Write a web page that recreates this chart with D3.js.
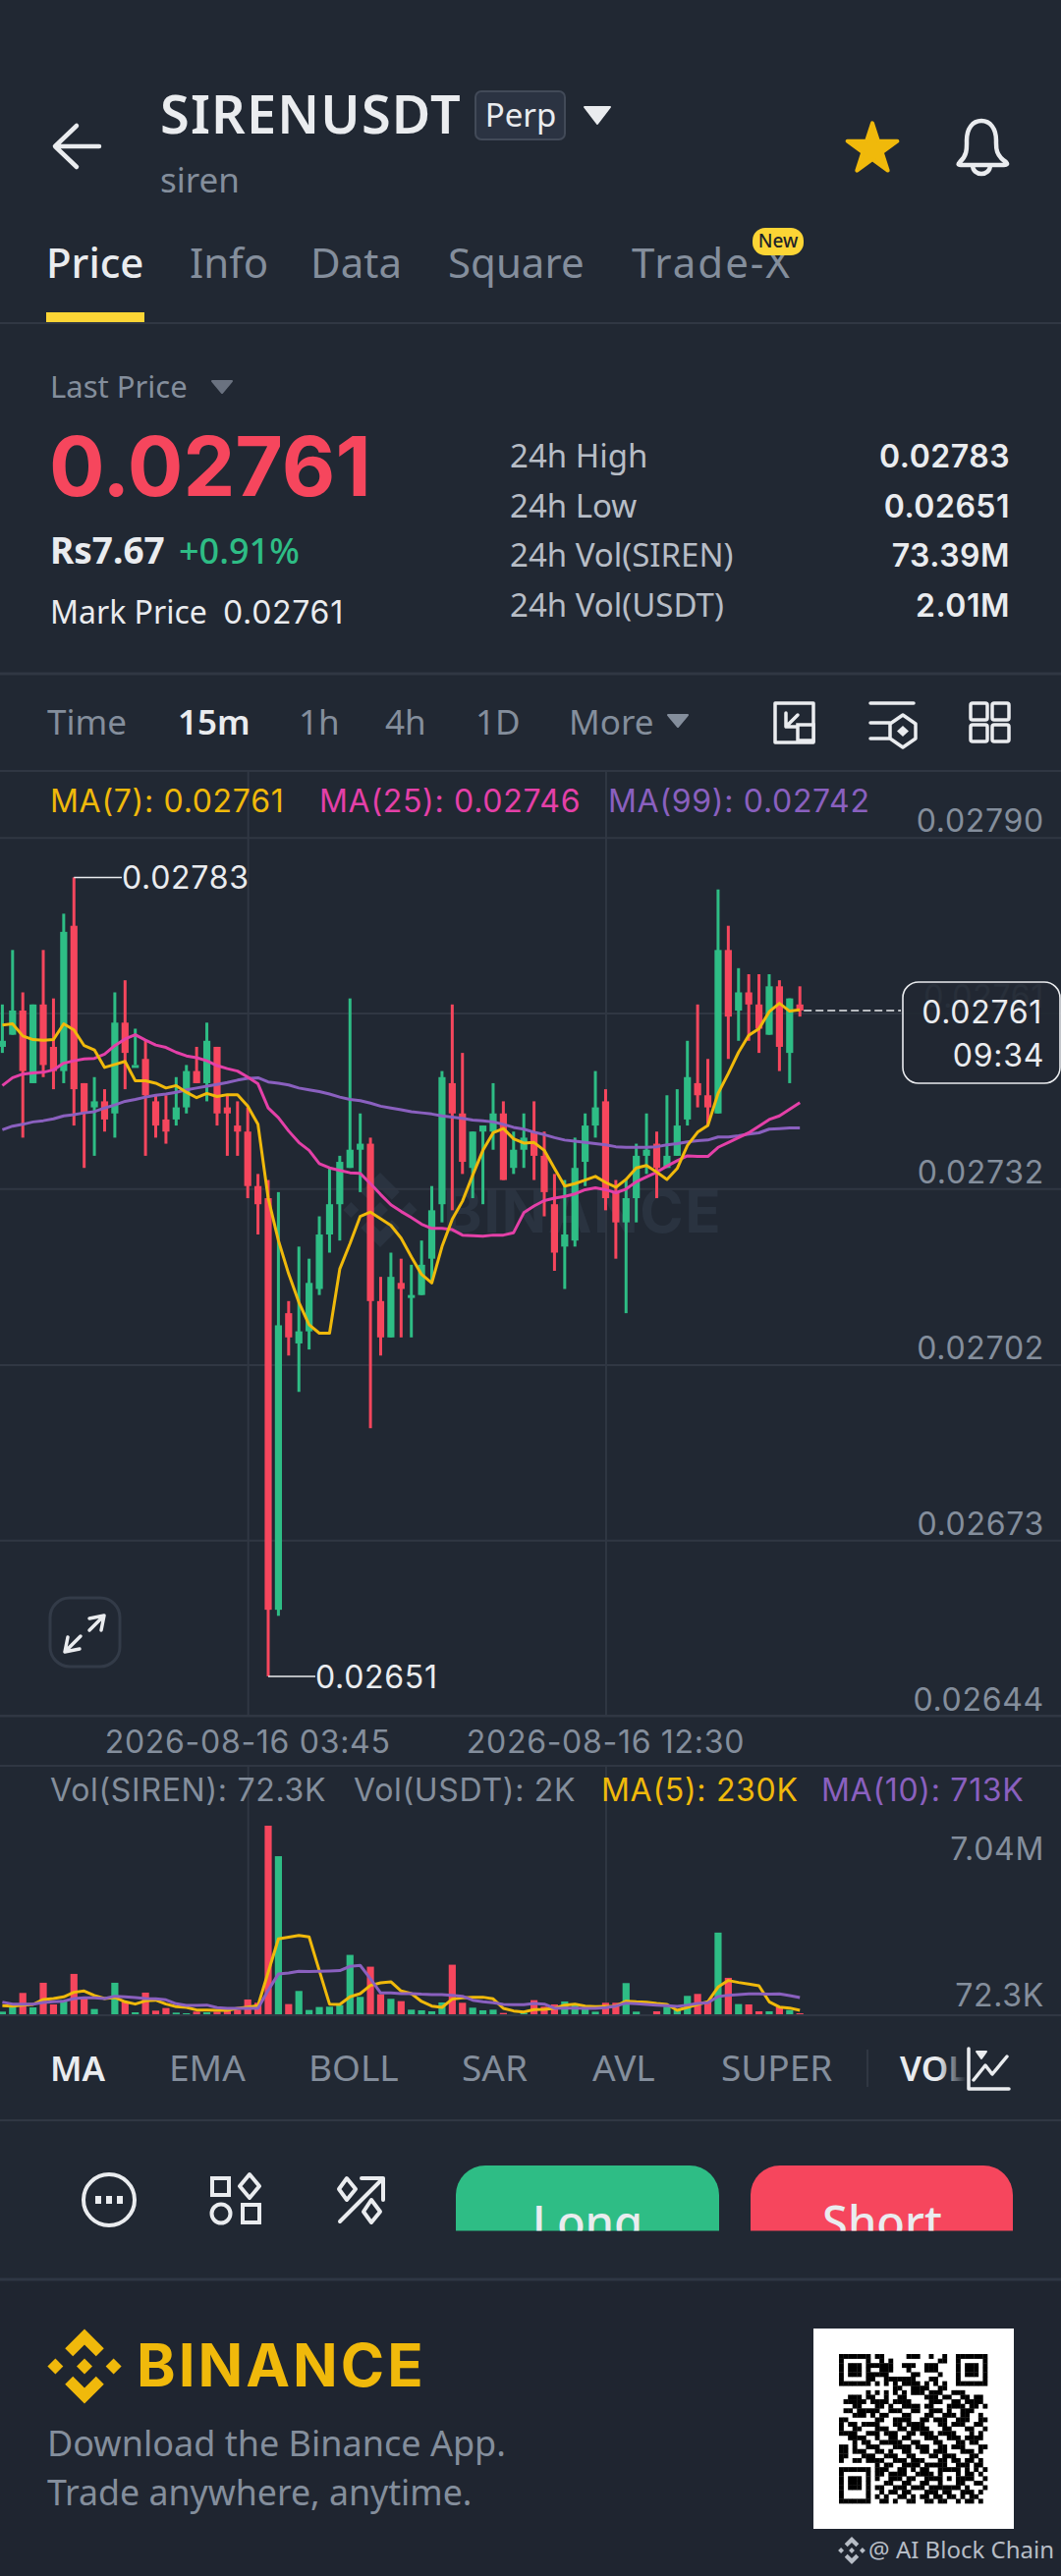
<!DOCTYPE html>
<html>
<head>
<meta charset="utf-8">
<title>SIRENUSDT</title>
<script src="https://cdn.jsdelivr.net/npm/d3@7"></script>
<style>
  html, body { margin: 0; padding: 0; background: #212833; }
  svg { display: block; }
</style>
</head>
<body>
<div id="chart"></div>
<script>
"use strict";

// prices are in units of 0.00001
var bodyTop = [2756,2761,2761,2762,2762,2755,2774,2775,2749,2746,2746,2759,2759,2752,2753,2746,2743,2745,2751,2751,2756,2755,2745,2742,2741,2732,2730,2709,2711,2708,2716,2724,2729,2736,2738,2739,2739,2713,2717,2716,2714,2719,2728,2750,2749,2744,2741,2742,2744,2744,2738,2740,2741,2737,2729,2724,2735,2742,2745,2746,2731,2730,2737,2738,2739,2737,2742,2750,2749,2747,2771,2771,2764,2764,2762,2765,2765,2763,2762];
var bodyBottom = [2755,2757,2751,2749,2752,2751,2751,2748,2744,2745,2743,2744,2754,2752,2747,2742,2741,2743,2745,2749,2749,2744,2744,2741,2732,2729,2662,2662,2707,2706,2708,2715,2724,2729,2735,2738,2713,2707,2707,2715,2714,2714,2720,2729,2744,2736,2735,2741,2741,2733,2735,2738,2737,2731,2721,2722,2723,2736,2742,2730,2726,2726,2730,2737,2735,2735,2737,2743,2747,2745,2744,2760,2761,2762,2758,2757,2755,2754,2761];
var wickHigh = [2762,2771,2764,2762,2771,2763,2777,2783,2749,2750,2748,2764,2766,2758,2756,2747,2747,2750,2752,2755,2759,2755,2747,2746,2745,2734,2733,2731,2713,2722,2720,2727,2735,2737,2763,2744,2740,2717,2721,2720,2719,2723,2732,2751,2762,2754,2741,2742,2749,2746,2741,2744,2746,2741,2734,2733,2740,2744,2751,2748,2733,2733,2739,2744,2741,2747,2748,2756,2762,2753,2781,2775,2768,2767,2767,2767,2766,2763,2765];
var wickLow = [2754,2757,2740,2749,2750,2748,2749,2742,2735,2737,2741,2740,2748,2752,2737,2740,2739,2742,2744,2749,2746,2742,2737,2737,2730,2724,2651,2661,2704,2698,2705,2714,2721,2723,2735,2731,2692,2704,2707,2707,2707,2714,2716,2726,2728,2734,2730,2729,2738,2733,2734,2735,2733,2727,2718,2715,2722,2732,2740,2728,2720,2711,2726,2734,2730,2735,2737,2742,2745,2742,2744,2753,2756,2756,2754,2757,2751,2749,2760];
var candleSide = ["g","g","r","g","r","r","g","r","r","g","r","g","r","g","r","r","r","g","g","r","g","r","r","r","r","r","r","g","r","g","g","g","g","g","g","g","r","r","g","r","g","g","g","g","r","r","g","g","g","r","g","g","r","r","r","g","g","g","g","r","r","g","g","g","r","g","g","g","r","r","g","r","g","r","r","g","r","g","r"];

var ma7 = [2758.6,2758.8,2756.8,2756.2,2756.1,2756.2,2758.8,2757.8,2755.2,2754.5,2751.6,2752.1,2752.6,2749.4,2749.4,2749.0,2748.2,2748.6,2747.5,2746.6,2747.3,2746.8,2747.1,2747.1,2745.2,2742.2,2730,2723,2717.5,2712.8,2709.1,2707.7,2707.7,2718.3,2722.5,2727,2727.7,2726.6,2725.5,2723.4,2720.3,2717.4,2716,2722,2726.5,2729.5,2733.8,2737.9,2740.8,2741.5,2739.8,2739.1,2739.2,2737.9,2734.9,2732,2732.4,2733,2733.6,2732.6,2731.8,2733.1,2735,2735.4,2734.3,2733.1,2734.9,2738.7,2740.9,2742,2747.3,2750.6,2754.1,2756.9,2758,2760.8,2762.2,2760.9,2761.1];
var ma25 = [2748.6,2749.9,2750.5,2750.7,2750.8,2751.2,2752.3,2752.7,2753,2753.1,2753.8,2755.2,2756.3,2757,2756.1,2755.3,2754.9,2754.1,2753.5,2753.2,2752.7,2751.9,2751.4,2751,2750,2748.9,2744.9,2743.3,2741.1,2739.2,2737.9,2735.7,2735,2734.6,2734.2,2734.1,2732.4,2730.6,2728.9,2727.8,2726.8,2725.7,2725,2725,2724.8,2723.9,2723.8,2723.7,2723.9,2723.9,2724.3,2727.6,2728.7,2729.6,2730,2730.3,2730.7,2731.4,2731.7,2731.4,2730.9,2731.5,2732.7,2733.5,2734.3,2735.3,2736.2,2737,2736.9,2736.9,2738.4,2739.2,2740,2740.8,2741.9,2743,2743.6,2744.7,2745.8];
var ma99 = [2741.3,2741.9,2742.2,2742.6,2742.8,2743.1,2743.6,2743.8,2744.1,2744.3,2744.9,2745.4,2746,2746.3,2746.7,2747,2747.2,2747.5,2747.9,2748.2,2748.5,2748.8,2749.1,2749.5,2749.8,2749.9,2749.2,2749,2748.7,2748.2,2747.9,2747.6,2747.2,2746.7,2746.3,2746.1,2745.7,2745.2,2744.9,2744.6,2744.3,2744.1,2743.9,2743.6,2743.4,2743.2,2742.9,2742.8,2742.6,2742.2,2741.7,2741.4,2740.9,2740.5,2740,2739.6,2739.4,2739.2,2739,2738.8,2738.5,2738.4,2738.4,2738.4,2738.5,2738.8,2739,2739.3,2739.5,2739.6,2740.1,2740.1,2740.3,2740.6,2740.8,2741.4,2741.5,2741.6,2741.6];

// volume in thousands
var volumes = [134,317,828,292,1206,402,560,1535,621,231,30,1206,499,110,840,170,268,97,73,134,110,134,170,195,585,463,7040,5907,414,901,195,305,317,378,2241,682,1803,780,609,524,207,183,146,475,1876,463,280,183,207,85,40,97,560,317,402,512,438,317,134,463,463,1194,134,30,146,317,195,719,792,499,3069,1389,414,402,146,146,317,195,72.3];
var volumeSide = ["g","g","r","g","r","r","g","r","r","g","r","g","r","g","r","r","r","g","g","r","g","r","r","r","r","r","r","g","r","g","g","g","g","g","g","g","r","r","g","r","g","g","g","g","r","r","g","g","g","r","g","g","r","r","r","g","g","g","g","r","r","g","g","g","r","g","g","g","r","r","g","r","g","r","r","g","r","g","r"];
var volMa5 = [353,341,378,402,585,621,682,853,901,731,621,658,499,414,536,560,414,317,292,195,195,183,183,256,305,353,1596,2838,2899,2960,2911,1656,414,402,682,804,1108,1206,1242,901,804,512,341,292,597,646,670,670,609,256,158,122,207,219,256,378,414,341,317,329,341,524,499,487,438,402,183,292,402,499,1047,1291,1218,1157,1096,499,305,268,183];
var volMa10 = [487,414,414,414,475,499,524,621,646,646,621,706,682,658,621,609,572,426,365,365,378,280,256,256,256,256,926,1535,1571,1632,1620,1632,1644,1656,1815,1851,1352,828,828,804,804,780,767,767,743,706,560,499,463,402,390,390,438,414,256,268,268,256,256,280,341,451,426,402,378,353,329,378,438,463,694,743,767,792,792,780,792,731,658];

var priceTicks = [2789.6,2760.6,2731.6,2702.5,2673.5,2644.5];
var priceLabels = ["0.02790","0.02761","0.02732","0.02702","0.02673","0.02644"];
var timeTicks = [24,59];
var timeLabels = ["2026-08-16 03:45","2026-08-16 12:30"];
var volTicks = [7040,72.3];
var volLabels = ["7.04M","72.3K"];

var tabs = ["Price","Info","Data","Square","Trade-X"];
var intervals = ["Time","15m","1h","4h","1D","More"];
var indicators = ["MA","EMA","BOLL","SAR","AVL","SUPER"];
var statNames = ["24h High","24h Low","24h Vol(SIREN)","24h Vol(USDT)"];
var statValues = ["0.02783","0.02651","73.39M","2.01M"];
var qrRows = [
  "111111101100000111001001001111111",
  "100000100101000000000011001000001",
  "101110111111001110011100001011101",
  "101110100111000100011100001011101",
  "101110111110000011000010001011101",
  "100000110011111110001100001000001",
  "111111101010101111010101001111111",
  "000000000000110011110011000000000",
  "000000101010101011101110011100000",
  "001110110010011000011101100110110",
  "011111011110111100001110011011110",
  "000110001101001111011000111101101",
  "011011111001110011001110100111000",
  "000111010110001100011001110110010",
  "110000001100111100110111001110011",
  "101101111000110111100011011100110",
  "100110001110011011110001100011001",
  "111100111011100110111011110001010",
  "001111001001101100011100111011110",
  "000101100111110011000110001101100",
  "110100111000111101110011011100011",
  "110111001101001100110111000111010",
  "110001110011100110001101110001100",
  "100110111100111011100011011011010",
  "000000001011001111011111001110110",
  "111111101110011010110011111010101",
  "100000101101111001111010001011010",
  "101110101001110110011110101111001",
  "101110100011001100110010001100110",
  "101110101100111011101111111010001",
  "100000100101101100011101100111010",
  "100000101010011010110110110101100",
  "111111100110100110011011001011010"
];

var W = 1080, H = 2623;
var bg = "#212833", footBg = "#1f2530", line = "#303743";
var red = "#f6465d", green = "#2ebd85", yellow = "#f0b90b", pink = "#e440a8", purple = "#8a60bf";
var white = "#eaecef", grey = "#848e9c";
var uiFont = "'Noto Sans', sans-serif", chartFont = "Inter, sans-serif";
var chartSize = 32, chartLs = 0.7;

var svg = d3.select("#chart").append("svg").attr("width", W).attr("height", H);
svg.append("rect").attr("width", W).attr("height", H).attr("fill", bg);

function txt(s, x, y, size, fill, opts) {
  opts = opts || {};
  return (opts.g || svg).append("text").text(s)
    .attr("x", x).attr("y", y)
    .attr("font-family", opts.font || uiFont)
    .attr("font-size", size)
    .attr("font-weight", opts.weight || 400)
    .attr("letter-spacing", opts.ls || null)
    .attr("text-anchor", opts.anchor || "start")
    .attr("fill", fill);
}
function chartTxt(s, x, y, fill, anchor) {
  return txt(s, x, y, chartSize, fill, { font: chartFont, ls: chartLs, anchor: anchor });
}
function rule(y, w, c) {
  svg.append("rect").attr("x", 0).attr("y", y - w / 2).attr("width", W).attr("height", w).attr("fill", c || line);
}
function tri(cx, top, w, h, c) {
  svg.append("path").attr("d", "M" + (cx - w / 2) + "," + top + "L" + (cx + w / 2) + "," + top + "L" + cx + "," + (top + h) + "Z")
    .attr("fill", c).attr("stroke", c).attr("stroke-width", 2).attr("stroke-linejoin", "round");
}
function stroke(d, w, c) {
  return svg.append("path").attr("d", d).attr("fill", "none").attr("stroke", c || white)
    .attr("stroke-width", w || 4).attr("stroke-linecap", "round").attr("stroke-linejoin", "round");
}
function logo(cx, cy, s, c) {
  var g = svg.append("g").attr("transform", "translate(" + cx + "," + cy + ") scale(" + s + ")").attr("fill", c);
  [[0, 0], [-0.78, 0], [0.78, 0]].forEach(function (p) {
    g.append("path").attr("d", "M" + (p[0] - 0.21) + ",0L" + p[0] + ",-0.21L" + (p[0] + 0.21) + ",0L" + p[0] + ",0.21Z");
  });
  g.append("path").attr("d", "M0,-1L0.52,-0.48L0.31,-0.27L0,-0.58L-0.31,-0.27L-0.52,-0.48Z");
  g.append("path").attr("d", "M0,1L0.52,0.48L0.31,0.27L0,0.58L-0.31,0.27L-0.52,0.48Z");
}

// header
stroke("M101,149H57M78,128L56,149L78,170", 4.5);
txt("SIRENUSDT", 163, 136, 54, white, { weight: 600, ls: 1.2 });
svg.append("rect").attr("x", 484).attr("y", 93).attr("width", 91).attr("height", 49).attr("rx", 6)
  .attr("fill", "#2b3342").attr("stroke", "#424a58").attr("stroke-width", 2);
txt("Perp", 530, 129, 33, white, { anchor: "middle" });
tri(608, 109, 26, 17, white);
txt("siren", 163, 196, 35, grey);
svg.append("path").attr("d", d3.symbol().type(d3.symbolStar).size(800)()).attr("transform", "translate(888,152)")
  .attr("fill", yellow).attr("stroke", yellow).attr("stroke-width", 4).attr("stroke-linejoin", "round");
stroke("M977,165C985,158 984,150 984,143C984,131 990,123 999,123C1008,123 1014,131 1014,143C1014,150 1013,158 1024,165C1026,167 1025,168 1022,168H978C975,168 975,167 977,165ZM990,168C990,180 1008,180 1008,168", 4.5);

// tabs
var tabX = [47, 193, 316, 456, 643];
tabs.forEach(function (t, i) {
  txt(t, tabX[i], 283, 42, i === 0 ? white : grey, { weight: i === 0 ? 500 : 400, ls: i === 4 ? 2 : null });
});
svg.append("rect").attr("x", 47).attr("y", 318).attr("width", 100).attr("height", 10).attr("fill", "#fcd535");
svg.append("rect").attr("x", 766).attr("y", 232).attr("width", 52).attr("height", 28).attr("rx", 13).attr("fill", "#fcd535");
txt("New", 792, 252, 19, "#1e2329", { anchor: "middle", weight: 500 });
rule(329, 2);

// price block
txt("Last Price", 51, 405, 31, grey);
tri(226, 388, 20, 12, "#6a7280");
txt("0.02761", 50, 505, 84, red, { weight: 700, font: chartFont });
txt("Rs7.67", 51, 574, 37, white, { weight: 700 });
txt("+0.91%", 182, 574, 36, green, { weight: 500 });
txt("Mark Price", 51, 635, 32, white);
chartTxt("0.02761", 227, 635, white);
statNames.forEach(function (t, i) {
  var by = 476 + i * 50.6;
  txt(t, 519, by, 33, "#b7bdc6");
  txt(statValues[i], 1028, by, 32, white, { anchor: "end", weight: 600, font: chartFont, ls: 0.5 });
});
rule(686, 3);

// interval row
var intervalX = [48, 181, 304, 392, 484, 579];
intervals.forEach(function (t, i) { txt(t, intervalX[i], 748, 35, i === 1 ? white : grey, { weight: i === 1 ? 600 : 400 }); });
tri(690, 728, 20, 12, "#848e9c");
stroke("M789,716H828V756H789ZM800,726V740H814M800,740L812,728", 3.5);
svg.append("rect").attr("x", 812).attr("y", 738).attr("width", 16).attr("height", 16).attr("fill", bg).attr("stroke", white).attr("stroke-width", 3.5);
stroke("M886,716H930M886,736H906M886,752H906M919,728L932,737V752L919,761L906,752V737Z", 3.5);
svg.append("path").attr("d", "M919,739L925,744.5L919,750L913,744.5Z").attr("fill", white);
[[988, 716], [1010, 716], [988, 738], [1010, 738]].forEach(function (p) {
  svg.append("rect").attr("x", p[0]).attr("y", p[1]).attr("width", 17).attr("height", 17).attr("rx", 2)
    .attr("fill", "none").attr("stroke", white).attr("stroke-width", 3.5);
});
rule(785, 2);

// price pane
var x = d3.scaleLinear().domain([0, 78]).range([2.4, 814.2]);
var y = d3.scaleLinear().domain([2644.5, 2789.6]).range([1747, 852.7]);
var yVol = d3.scaleLinear().domain([0, 7040]).range([2052, 1859]);

// watermark sits under the grid
logo(387, 1232, 38, "#2a3340");
txt("BINANCE", 451, 1255, 60, "#2a3340", { weight: 700, font: chartFont, ls: 1.5 });

var grid = svg.append("g").call(d3.axisRight(y).tickValues(priceTicks).tickSize(W).tickFormat(""));
grid.select(".domain").remove();
grid.selectAll("line").attr("stroke", line).attr("stroke-width", 2);

[785, 1798].forEach(function (top, i) {
  var bottom = i === 0 ? 1747 : 2052;
  svg.selectAll(null).data(timeTicks).enter().append("line")
    .attr("x1", function (d) { return x(d) + 0.5; }).attr("x2", function (d) { return x(d) + 0.5; })
    .attr("y1", top).attr("y2", bottom).attr("stroke", line).attr("stroke-width", 2);
});

var candles = d3.range(wickHigh.length);
var sideColor = function (s) { return s === "g" ? green : red; };
svg.append("g").selectAll("rect").data(candles).enter().append("rect")
  .attr("x", function (i) { return x(i) - 1.5; })
  .attr("width", 3)
  .attr("y", function (i) { return y(wickHigh[i]); })
  .attr("height", function (i) { return y(wickLow[i]) - y(wickHigh[i]); })
  .attr("fill", function (i) { return sideColor(candleSide[i]); });
svg.append("g").selectAll("rect").data(candles).enter().append("rect")
  .attr("x", function (i) { return x(i) - 3.6; })
  .attr("width", 7.2)
  .attr("y", function (i) { return y(bodyTop[i]); })
  .attr("height", function (i) { return Math.max(3, y(bodyBottom[i]) - y(bodyTop[i])); })
  .attr("fill", function (i) { return sideColor(candleSide[i]); });

var priceLine = d3.line().x(function (d, i) { return x(i); }).y(function (d) { return y(d); });
[[ma99, purple], [ma25, pink], [ma7, yellow]].forEach(function (s) {
  svg.append("path").attr("d", priceLine(s[0])).attr("fill", "none").attr("stroke", s[1]).attr("stroke-width", 3).attr("stroke-linejoin", "round");
});

// high / low callouts
var hiY = y(2783), loY = y(2651);
svg.append("line").attr("x1", x(7)).attr("x2", 124).attr("y1", hiY).attr("y2", hiY).attr("stroke", white).attr("stroke-width", 1.5);
chartTxt("0.02783", 124, hiY + 12, white);
svg.append("line").attr("x1", x(26)).attr("x2", 321).attr("y1", loY).attr("y2", loY).attr("stroke", white).attr("stroke-width", 1.5);
chartTxt("0.02651", 321, loY + 12, white);

// price axis labels
var priceAxis = svg.append("g").attr("transform", "translate(1063,0)")
  .call(d3.axisLeft(y).tickValues(priceTicks).tickSize(0).tickPadding(0)
    .tickFormat(function (d, i) { return priceLabels[i]; }));
priceAxis.select(".domain").remove();
priceAxis.selectAll("text").attr("font-family", chartFont).attr("font-size", chartSize).attr("letter-spacing", chartLs)
  .attr("fill", grey).attr("dy", "-6");

// legend
chartTxt("MA(7): 0.02761", 51, 827, yellow);
chartTxt("MA(25): 0.02746", 325, 827, pink);
chartTxt("MA(99): 0.02742", 619, 827, purple);

// last price tag
svg.append("line").attr("x1", x(78) + 4).attr("x2", 917).attr("y1", y(2761)).attr("y2", y(2761))
  .attr("stroke", white).attr("stroke-width", 1.5).attr("stroke-dasharray", "8,4");
svg.append("rect").attr("x", 919).attr("y", 1000).attr("width", 160).attr("height", 103).attr("rx", 16)
  .attr("fill", bg).attr("fill-opacity", 0.93).attr("stroke", white).attr("stroke-width", 1.6);
chartTxt("0.02761", 1061, 1042, white, "end");
chartTxt("09:34", 1063, 1086, white, "end");

// expand button
svg.append("rect").attr("x", 51).attr("y", 1627).attr("width", 71).attr("height", 70).attr("rx", 20)
  .attr("fill", "none").attr("stroke", "#333b48").attr("stroke-width", 3);
stroke("M91,1648L106,1645M106,1645L103,1660M106,1645L91,1660M66,1682L81,1679M66,1682L69,1667M66,1682L82,1666", 3.5);

rule(1747, 2);
rule(1798, 2);

// time labels
svg.append("g").selectAll("text").data(timeTicks).enter().append("text")
  .text(function (d, i) { return timeLabels[i]; })
  .attr("x", function (d) { return x(d); }).attr("y", 1785)
  .attr("text-anchor", "middle").attr("font-family", chartFont).attr("font-size", chartSize)
  .attr("letter-spacing", chartLs).attr("fill", grey);

// volume pane
chartTxt("Vol(SIREN): 72.3K", 51, 1834, grey);
chartTxt("Vol(USDT): 2K", 360, 1834, grey);
chartTxt("MA(5): 230K", 612, 1834, yellow);
chartTxt("MA(10): 713K", 836, 1834, purple);

svg.append("g").selectAll("rect").data(volumes).enter().append("rect")
  .attr("x", function (d, i) { return x(i) - 3.6; })
  .attr("width", 7.2)
  .attr("y", function (d) { return yVol(d); })
  .attr("height", function (d) { return yVol(0) - yVol(d); })
  .attr("fill", function (d, i) { return sideColor(volumeSide[i]); });

var volLine = d3.line().x(function (d, i) { return x(i); }).y(function (d) { return yVol(d); });
[[volMa5, yellow], [volMa10, purple]].forEach(function (s) {
  svg.append("path").attr("d", volLine(s[0])).attr("fill", "none").attr("stroke", s[1]).attr("stroke-width", 3).attr("stroke-linejoin", "round");
});

var volAxisY = [1894, 2043];
volLabels.forEach(function (t, i) { chartTxt(t, 1063, volAxisY[i], grey, "end"); });
rule(2052, 2);

// indicator tabs
var indicatorX = [51, 172, 314, 470, 603, 734];
indicators.forEach(function (t, i) { txt(t, indicatorX[i], 2119, i === 0 ? 35 : 37, i === 0 ? white : grey, { weight: i === 0 ? 600 : 400 }); });
svg.append("rect").attr("x", 882).attr("y", 2087).attr("width", 2).attr("height", 38).attr("fill", line);
var fade = svg.append("defs").append("linearGradient").attr("id", "fade");
fade.append("stop").attr("offset", 0).attr("stop-color", bg).attr("stop-opacity", 0);
fade.append("stop").attr("offset", 1).attr("stop-color", bg).attr("stop-opacity", 1);
txt("VOL", 916, 2119, 35, white, { weight: 600 });
svg.append("rect").attr("x", 955).attr("y", 2085).attr("width", 28).attr("height", 45).attr("fill", "url(#fade)");
svg.append("rect").attr("x", 983).attr("y", 2085).attr("width", 30).attr("height", 45).attr("fill", bg);
stroke("M986,2086V2127H1027M991,2118L1003,2103L1010,2112L1025,2094", 3.5);
tri(999, 2089, 10, 7, white);
rule(2159, 2);

// action row
svg.append("circle").attr("cx", 111).attr("cy", 2240).attr("r", 26).attr("fill", "none").attr("stroke", white).attr("stroke-width", 4);
[100, 111, 122].forEach(function (cx) {
  svg.append("rect").attr("x", cx - 3).attr("y", 2236).attr("width", 6).attr("height", 8).attr("fill", white);
});
svg.append("rect").attr("x", 216).attr("y", 2218).attr("width", 17).attr("height", 17).attr("fill", "none").attr("stroke", white).attr("stroke-width", 4);
svg.append("rect").attr("x", 247).attr("y", 2245).attr("width", 17).attr("height", 18).attr("fill", "none").attr("stroke", white).attr("stroke-width", 4);
svg.append("circle").attr("cx", 225).attr("cy", 2254).attr("r", 9.5).attr("fill", "none").attr("stroke", white).attr("stroke-width", 4);
stroke("M254,2214L264,2226L254,2238L244,2226Z", 4);
stroke("M346,2262L390,2218M368,2218H390V2240M353,2218L362,2229L353,2240L345,2229ZM378,2240L387,2252L378,2263L370,2252Z", 4);

var buttons = svg.append("defs").append("clipPath").attr("id", "btnClip");
buttons.append("rect").attr("x", 0).attr("y", 2190).attr("width", W).attr("height", 81.5);
var btn = svg.append("g").attr("clip-path", "url(#btnClip)");
btn.append("rect").attr("x", 464).attr("y", 2205).attr("width", 268).attr("height", 110).attr("rx", 30).attr("fill", green);
btn.append("rect").attr("x", 764).attr("y", 2205).attr("width", 267).attr("height", 110).attr("rx", 30).attr("fill", red);
txt("Long", 598, 2280, 47, white, { g: btn, anchor: "middle", weight: 500 });
txt("Short", 898, 2280, 47, white, { g: btn, anchor: "middle", weight: 500 });

// footer
svg.append("rect").attr("x", 0).attr("y", 2321).attr("width", W).attr("height", H - 2321).attr("fill", footBg);
rule(2321, 3, "#2f3744");
logo(86, 2409.5, 38, yellow);
txt("BINANCE", 139, 2430, 60, yellow, { weight: 700, font: chartFont, ls: 3 });
txt("Download the Binance App.", 48, 2501, 36, grey);
txt("Trade anywhere, anytime.", 48, 2551, 35.7, grey);

svg.append("rect").attr("x", 828).attr("y", 2371).attr("width", 204).attr("height", 204).attr("fill", "#fff");
var qrSize = qrRows.length;
var qx = d3.scaleBand().domain(d3.range(qrSize)).range([854, 1005]);
var qy = d3.scaleBand().domain(d3.range(qrSize)).range([2397, 2549]);
var qrCells = [];
qrRows.forEach(function (r, ri) {
  r.split("").forEach(function (c, ci) { if (c === "1") qrCells.push([ci, ri]); });
});
svg.append("g").selectAll("rect").data(qrCells).enter().append("rect")
  .attr("x", function (d) { return qx(d[0]); }).attr("y", function (d) { return qy(d[1]); })
  .attr("width", qx.bandwidth() + 0.3).attr("height", qy.bandwidth() + 0.3).attr("fill", "#000");

logo(867, 2597, 14, "#b7bdc6");
txt("@ AI Block Chain", 1073, 2605, 24, "#b7bdc6", { anchor: "end" });
</script>
</body>
</html>
